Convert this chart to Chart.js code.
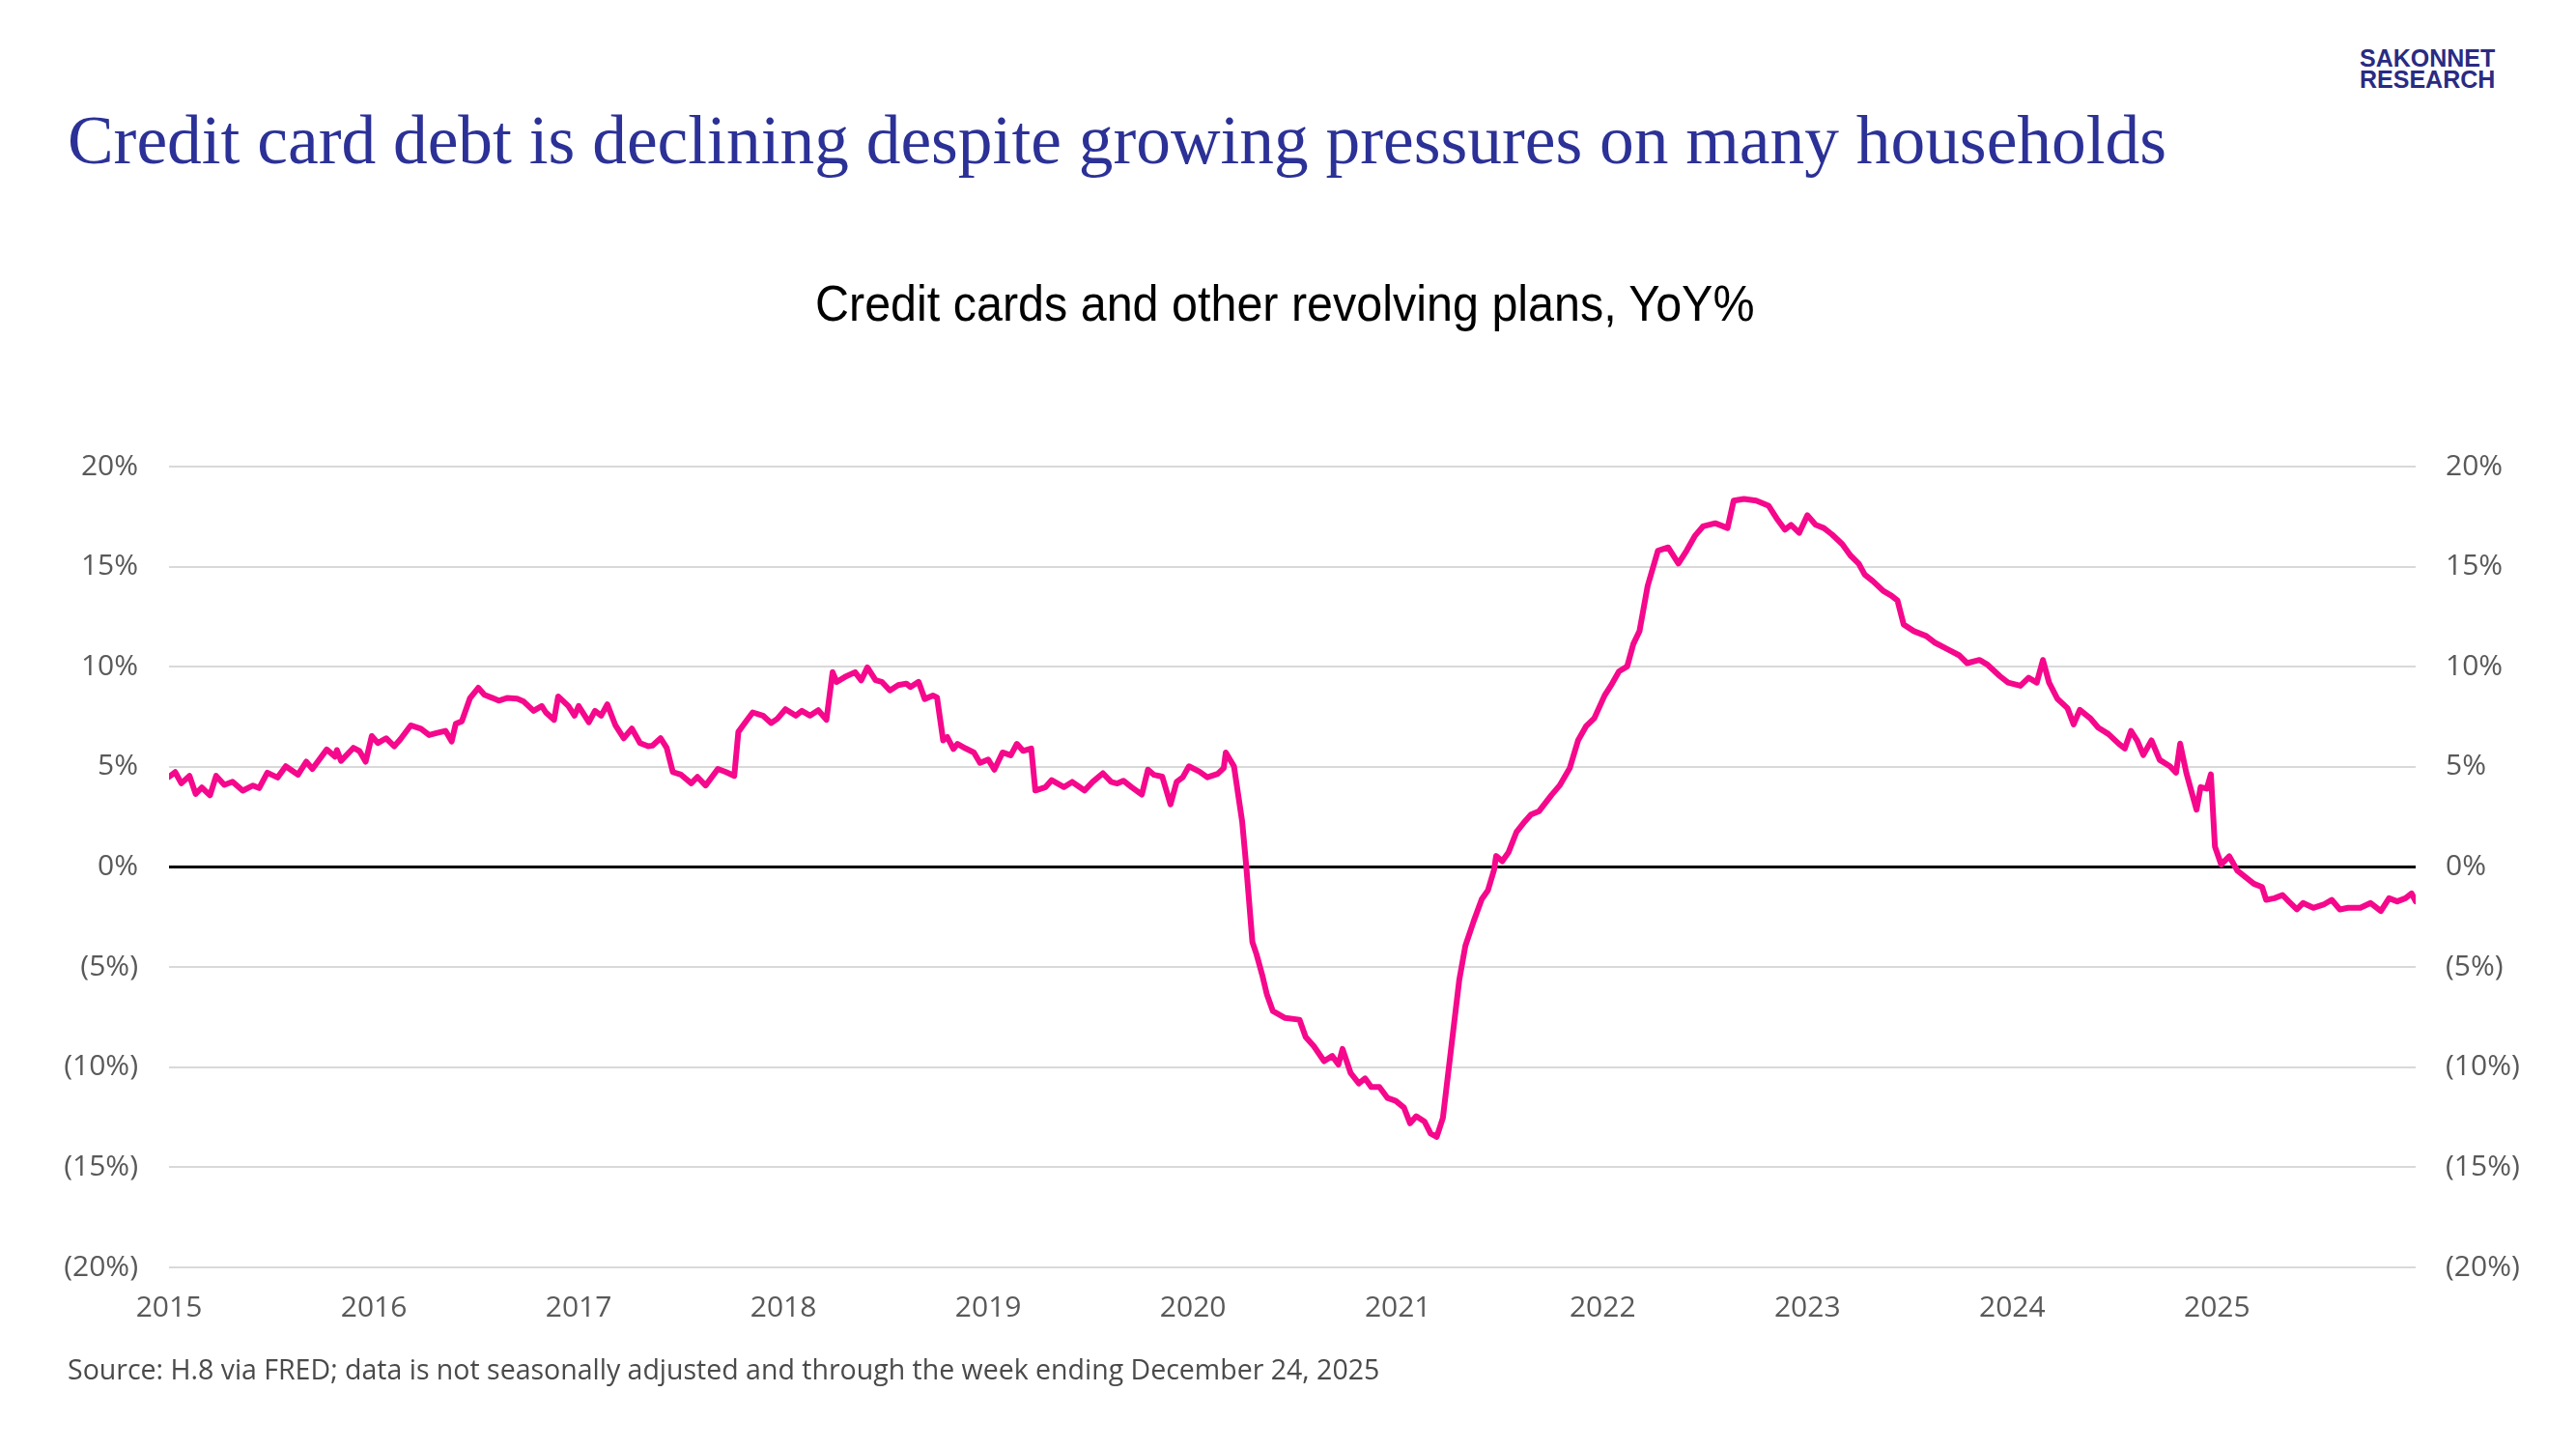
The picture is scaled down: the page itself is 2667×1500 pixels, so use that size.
<!DOCTYPE html>
<html>
<head>
<meta charset="utf-8">
<script src="https://cdn.jsdelivr.net/npm/chart.js@4/dist/chart.umd.min.js"></script>
<style>
  html, body { margin: 0; padding: 0; background: #fff; }
  body { width: 2667px; height: 1500px; position: relative; overflow: hidden; }
  #title {
    position: absolute; left: 70px; top: 104px;
    font-family: "Liberation Serif", serif; font-size: 71.4px;
    color: #2b3196; white-space: nowrap;
  }
  #logo {
    position: absolute; left: 2443px; top: 49px;
    font-family: "Liberation Sans", sans-serif; font-weight: bold;
    font-size: 25px; line-height: 22px; color: #2a2b82;
  }
  #subtitle {
    position: absolute; left: 1330px; top: 284px;
    font-family: "Liberation Sans Narrow", "Liberation Sans", sans-serif;
    font-size: 52px; color: #000; white-space: nowrap;
    transform-origin: 0 0;
  }
  #source {
    position: absolute; left: 70px; top: 1398px;
    font-family: "Open Sans", sans-serif; font-size: 28.5px;
    color: #4a4a4a; white-space: nowrap;
  }
  #wrap { position: absolute; left: 0; top: 433px; width: 2667px; height: 967px; }
</style>
</head>
<body>
<div id="title">Credit card debt is declining despite growing pressures on many households</div>
<div id="logo">SAKONNET<br>RESEARCH</div>
<div id="subtitle">Credit cards and other revolving plans, YoY%</div>
<div id="wrap"><canvas id="chart"></canvas></div>
<div id="source">Source: H.8 via FRED; data is not seasonally adjusted and through the week ending December 24, 2025</div>

<script>
// ---- data (week as decimal year, YoY %) ----
var weeks = [
  2015.00, 2015.03, 2015.06, 2015.10, 2015.13, 2015.16, 2015.20, 2015.23, 2015.27, 2015.31,
  2015.36, 2015.41, 2015.44, 2015.48, 2015.53, 2015.57, 2015.63, 2015.67, 2015.70, 2015.77,
  2015.81, 2015.82, 2015.84, 2015.90, 2015.93, 2015.96, 2015.99, 2016.02, 2016.06, 2016.10,
  2016.13, 2016.18, 2016.23, 2016.27, 2016.31, 2016.35, 2016.38, 2016.40, 2016.43, 2016.47,
  2016.51, 2016.54, 2016.58, 2016.61, 2016.65, 2016.70, 2016.73, 2016.78, 2016.82, 2016.84,
  2016.88, 2016.90, 2016.95, 2016.98, 2017.00, 2017.05, 2017.08, 2017.11, 2017.14, 2017.18,
  2017.22, 2017.26, 2017.30, 2017.34, 2017.36, 2017.40, 2017.43, 2017.46, 2017.50, 2017.55,
  2017.58, 2017.62, 2017.68, 2017.72, 2017.76, 2017.78, 2017.82, 2017.85, 2017.90, 2017.94,
  2017.97, 2018.01, 2018.06, 2018.09, 2018.13, 2018.17, 2018.21, 2018.24, 2018.26, 2018.30,
  2018.35, 2018.38, 2018.41, 2018.45, 2018.48, 2018.52, 2018.56, 2018.60, 2018.62, 2018.66,
  2018.69, 2018.73, 2018.75, 2018.78, 2018.80, 2018.83, 2018.85, 2018.89, 2018.93, 2018.96,
  2019.00, 2019.03, 2019.07, 2019.11, 2019.14, 2019.17, 2019.21, 2019.23, 2019.28, 2019.31,
  2019.37, 2019.41, 2019.47, 2019.51, 2019.56, 2019.60, 2019.63, 2019.66, 2019.70, 2019.75,
  2019.78, 2019.81, 2019.85, 2019.89, 2019.92, 2019.95, 2019.98, 2020.03, 2020.07, 2020.12,
  2020.15, 2020.16, 2020.20, 2020.24, 2020.26, 2020.29, 2020.31, 2020.34, 2020.36, 2020.39,
  2020.45, 2020.52, 2020.55, 2020.59, 2020.64, 2020.68, 2020.71, 2020.73, 2020.77, 2020.81,
  2020.84, 2020.87, 2020.91, 2020.95, 2020.99, 2021.03, 2021.06, 2021.09, 2021.13, 2021.16,
  2021.19, 2021.22, 2021.26, 2021.30, 2021.33, 2021.37, 2021.41, 2021.44, 2021.47, 2021.48,
  2021.51, 2021.54, 2021.58, 2021.62, 2021.65, 2021.69, 2021.75, 2021.79, 2021.84, 2021.88,
  2021.92, 2021.96, 2022.01, 2022.04, 2022.08, 2022.12, 2022.15, 2022.18, 2022.22, 2022.27,
  2022.32, 2022.37, 2022.41, 2022.45, 2022.49, 2022.55, 2022.61, 2022.64, 2022.69, 2022.75,
  2022.81, 2022.85, 2022.89, 2022.92, 2022.96, 2023.00, 2023.04, 2023.08, 2023.12, 2023.17,
  2023.21, 2023.25, 2023.28, 2023.32, 2023.37, 2023.41, 2023.44, 2023.47, 2023.52, 2023.58,
  2023.62, 2023.68, 2023.74, 2023.78, 2023.84, 2023.88, 2023.94, 2023.98, 2024.04, 2024.08,
  2024.12, 2024.15, 2024.18, 2024.22, 2024.27, 2024.30, 2024.33, 2024.38, 2024.42, 2024.47,
  2024.52, 2024.55, 2024.58, 2024.61, 2024.64, 2024.68, 2024.72, 2024.77, 2024.80, 2024.82,
  2024.85, 2024.90, 2024.92, 2024.95, 2024.97, 2024.99, 2025.02, 2025.06, 2025.10, 2025.14,
  2025.18, 2025.22, 2025.24, 2025.28, 2025.32, 2025.35, 2025.39, 2025.42, 2025.47, 2025.52,
  2025.56, 2025.60, 2025.64, 2025.70, 2025.75, 2025.80, 2025.84, 2025.88, 2025.92, 2025.95,
  2025.97
];

var yoy = [
  4.50, 4.74, 4.18, 4.55, 3.65, 3.97, 3.58, 4.55, 4.10, 4.26,
  3.81, 4.07, 3.94, 4.71, 4.47, 5.03, 4.61, 5.26, 4.90, 5.87,
  5.51, 5.84, 5.30, 5.95, 5.79, 5.26, 6.54, 6.19, 6.43, 6.03,
  6.38, 7.07, 6.91, 6.59, 6.70, 6.80, 6.27, 7.15, 7.28, 8.44,
  8.95, 8.60, 8.44, 8.31, 8.44, 8.41, 8.28, 7.80, 8.04, 7.72,
  7.35, 8.52, 8.04, 7.56, 8.04, 7.23, 7.80, 7.56, 8.12, 7.07,
  6.43, 6.91, 6.19, 6.03, 6.06, 6.43, 5.95, 4.74, 4.61, 4.18,
  4.50, 4.07, 4.90, 4.74, 4.55, 6.75, 7.31, 7.72, 7.56, 7.19,
  7.40, 7.88, 7.56, 7.80, 7.56, 7.83, 7.35, 9.73, 9.24, 9.49,
  9.73, 9.32, 9.97, 9.33, 9.25, 8.82, 9.08, 9.16, 8.99, 9.25,
  8.39, 8.56, 8.47, 6.32, 6.49, 5.89, 6.15, 5.92, 5.72, 5.20,
  5.37, 4.86, 5.72, 5.58, 6.15, 5.80, 5.92, 3.82, 3.99, 4.34,
  3.99, 4.25, 3.82, 4.25, 4.68, 4.25, 4.17, 4.31, 3.99, 3.62,
  4.86, 4.60, 4.51, 3.13, 4.25, 4.48, 5.03, 4.77, 4.48, 4.65,
  4.94, 5.72, 5.03, 2.27, 0.03, -3.75, -4.36, -5.48, -6.34, -7.20,
  -7.54, -7.63, -8.49, -8.95, -9.70, -9.44, -9.87, -9.09, -10.30, -10.81,
  -10.56, -10.99, -10.99, -11.54, -11.68, -12.02, -12.80, -12.45, -12.71, -13.31,
  -13.48, -12.54, -9.09, -5.65, -3.93, -2.72, -1.60, -1.17, -0.14, 0.55,
  0.29, 0.72, 1.76, 2.27, 2.62, 2.79, 3.59, 4.07, 4.95, 6.32,
  7.04, 7.44, 8.57, 9.05, 9.77, 10.02, 11.14, 11.78, 14.04, 15.80,
  15.96, 15.16, 15.80, 16.53, 17.01, 17.17, 16.93, 18.30, 18.38, 18.30,
  18.05, 17.41, 16.85, 17.09, 16.69, 17.57, 17.09, 16.93, 16.61, 16.13,
  15.56, 15.16, 14.60, 14.28, 13.79, 13.55, 13.31, 12.11, 11.78, 11.54,
  11.22, 10.90, 10.58, 10.18, 10.34, 10.10, 9.53, 9.21, 9.05, 9.45,
  9.21, 10.34, 9.21, 8.41, 7.93, 7.12, 7.85, 7.44, 6.96, 6.64,
  6.16, 5.92, 6.80, 6.32, 5.59, 6.32, 5.35, 5.03, 4.71, 6.16,
  4.71, 2.86, 3.99, 3.91, 4.63, 1.01, 0.13, 0.53, -0.19, -0.51,
  -0.84, -1.00, -1.64, -1.56, -1.40, -1.72, -2.12, -1.80, -2.04, -1.88,
  -1.64, -2.12, -2.04, -2.04, -1.80, -2.20, -1.56, -1.72, -1.56, -1.32,
  -1.72
];

var yearTicks = [2015, 2016, 2017, 2018, 2019, 2020, 2021, 2022, 2023, 2024, 2025];
var pctTicks = [-20, -15, -10, -5, 0, 5, 10, 15, 20];

// ---- subtitle: centre it and squeeze to the narrow width of the original ----
var sub = document.getElementById("subtitle");
var subW = sub.offsetWidth;
var k = 973 / subW;
sub.style.transform = "scaleX(" + k + ")";
sub.style.left = (1330 - 973 / 2) + "px";

function pctLabel(v) {
  if (v < 0) return "(" + Math.abs(v) + "%)";
  return v + "%";
}

var tickFont = { family: "Open Sans", size: 30 };
var tickColor = "#595959";

var points = [];
for (var i = 0; i < weeks.length; i++) {
  points.push({ x: weeks[i], y: yoy[i] });
}

var ctx = document.getElementById("chart").getContext("2d");

new Chart(ctx, {
  type: "line",
  data: {
    datasets: [{
      data: points,
      borderColor: "#f5088c",
      borderWidth: 6,
      pointRadius: 0,
      tension: 0,
      borderJoinStyle: "round",
      borderCapStyle: "round",
      fill: false,
      yAxisID: "y"
    }]
  },
  options: {
    responsive: true,
    maintainAspectRatio: false,
    animation: false,
    // the y scales ask for (half label + tick padding) = 50px on top anyway
    layout: { padding: { top: 50, left: 0, right: 0, bottom: 0 } },
    plugins: {
      legend: { display: false },
      tooltip: { enabled: false }
    },
    scales: {
      x: {
        type: "linear",
        min: 2015,
        max: weeks[weeks.length - 1],
        afterBuildTicks: function (s) {
          s.ticks = yearTicks.map(function (v) { return { value: v }; });
        },
        afterFit: function (s) { s.height = 88; },
        grid: { display: false, drawTicks: false },
        border: { display: false },
        ticks: {
          font: tickFont,
          color: tickColor,
          padding: 24,
          maxRotation: 0,
          autoSkip: false,
          callback: function (v) { return String(v); }
        }
      },
      y: {
        position: "left",
        min: -20,
        max: 20,
        afterBuildTicks: function (s) {
          s.ticks = pctTicks.map(function (v) { return { value: v }; });
        },
        afterFit: function (s) { s.width = 175; },
        border: { display: false },
        grid: {
          drawTicks: false,
          color: function (c) { return c.tick && c.tick.value === 0 ? "#000000" : "#d9d9d9"; },
          lineWidth: function (c) { return c.tick && c.tick.value === 0 ? 3 : 2; }
        },
        ticks: {
          font: tickFont,
          color: tickColor,
          padding: 32,
          callback: pctLabel
        }
      },
      y2: {
        position: "right",
        min: -20,
        max: 20,
        afterBuildTicks: function (s) {
          s.ticks = pctTicks.map(function (v) { return { value: v }; });
        },
        afterFit: function (s) { s.width = 166; },
        border: { display: false },
        grid: { display: false, drawTicks: false },
        ticks: {
          font: tickFont,
          color: tickColor,
          padding: 31,
          callback: pctLabel
        }
      }
    }
  }
});
</script>
</body>
</html>
